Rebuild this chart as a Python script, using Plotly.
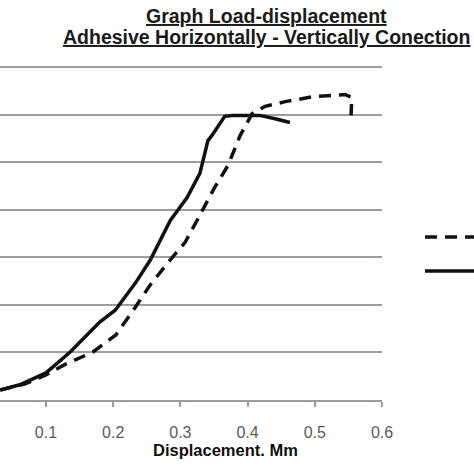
import plotly.graph_objects as go

# Dashed series (displacement mm, load)
dash_x = [0.032, 0.069, 0.100, 0.130, 0.170, 0.204, 0.229, 0.255, 0.282, 0.307,
          0.329, 0.350, 0.371, 0.389, 0.407, 0.426, 0.456, 0.500, 0.545, 0.555, 0.554]
dash_y = [0.21, 0.34, 0.53, 0.76, 1.01, 1.37, 1.87, 2.42, 2.90, 3.32,
          3.89, 4.45, 4.94, 5.57, 6.03, 6.18, 6.28, 6.39, 6.43, 6.37, 5.99]

# Solid series
solid_x = [0.032, 0.061, 0.100, 0.136, 0.180, 0.203, 0.233, 0.255, 0.285, 0.310,
           0.329, 0.337, 0.341, 0.349, 0.359, 0.366, 0.377, 0.418, 0.441, 0.463]
solid_y = [0.21, 0.32, 0.57, 1.01, 1.64, 1.89, 2.46, 2.94, 3.78, 4.26,
           4.77, 5.19, 5.46, 5.61, 5.82, 5.97, 5.99, 5.99, 5.92, 5.84]

x_ticks = [0.1, 0.2, 0.3, 0.4, 0.5, 0.6]
x_tick_labels = ["0.1", "0.2", "0.3", "0.4", "0.5", "0.6"]
y_grid = [1, 2, 3, 4, 5, 6, 7]

title_lines = ["Graph Load-displacement", "Adhesive Horizontally - Vertically Conection"]
x_title = "Displacement. Mm"

W, H = 474, 474
L, R, T, B = 0, 92, 66, 74

fig = go.Figure()
fig.add_trace(go.Scatter(x=dash_x, y=dash_y, mode="lines",
                         line=dict(color="#111111", width=3.5, dash="12px,8px"),
                         showlegend=False))
fig.add_trace(go.Scatter(x=solid_x, y=solid_y, mode="lines",
                         line=dict(color="#111111", width=3.5),
                         showlegend=False))

pw = W - L - R
ph = H - T - B
def px(xp):
    return (xp - L) / pw
def py(yp):
    return (H - B - yp) / ph

# legend samples (cut off at the right edge as in the reference)
fig.add_shape(type="line", xref="paper", yref="paper", x0=px(425), x1=px(480),
              y0=py(237), y1=py(237), line=dict(color="#111111", width=3.5, dash="12px,8px"))
fig.add_shape(type="line", xref="paper", yref="paper", x0=px(425), x1=px(480),
              y0=py(271), y1=py(271), line=dict(color="#111111", width=3.5))

fig.add_annotation(text="<b>" + x_title + "</b>", xref="paper", yref="paper",
                   x=px(225), y=py(450), xanchor="center", yanchor="middle", showarrow=False,
                   font=dict(family="Arial, Liberation Sans", size=16.5, color="#111111"))

for i, (line, ypix) in enumerate(zip(title_lines, [16, 37])):
    fig.add_annotation(text="<b><u>" + line + "</u></b>", xref="paper", yref="paper",
                       x=px(266), y=py(ypix), xanchor="center", yanchor="middle",
                       showarrow=False,
                       font=dict(family="Arial, Liberation Sans", size=19.5, color="#1a1a1a"))

fig.update_layout(
    width=W, height=H,
    margin=dict(l=L, r=R, t=T, b=B),
    paper_bgcolor="white", plot_bgcolor="white",
    xaxis=dict(range=[0.0316, 0.6], tickvals=x_ticks, ticktext=x_tick_labels,
               showgrid=False, zeroline=False, showline=True, linecolor="#9a9ea3", linewidth=2,
               ticks="outside", ticklen=5, tickcolor="#9a9ea3", tickwidth=2,
               ticklabelstandoff=12,
               tickfont=dict(family="Arial, Liberation Sans", size=16, color="#5a5a5a")),
    yaxis=dict(range=[0, 7.03], tickvals=y_grid, showgrid=True, gridcolor="#9a9ea3", gridwidth=2,
               zeroline=False, showticklabels=False, showline=False),
)

fig.write_html("out.html")
